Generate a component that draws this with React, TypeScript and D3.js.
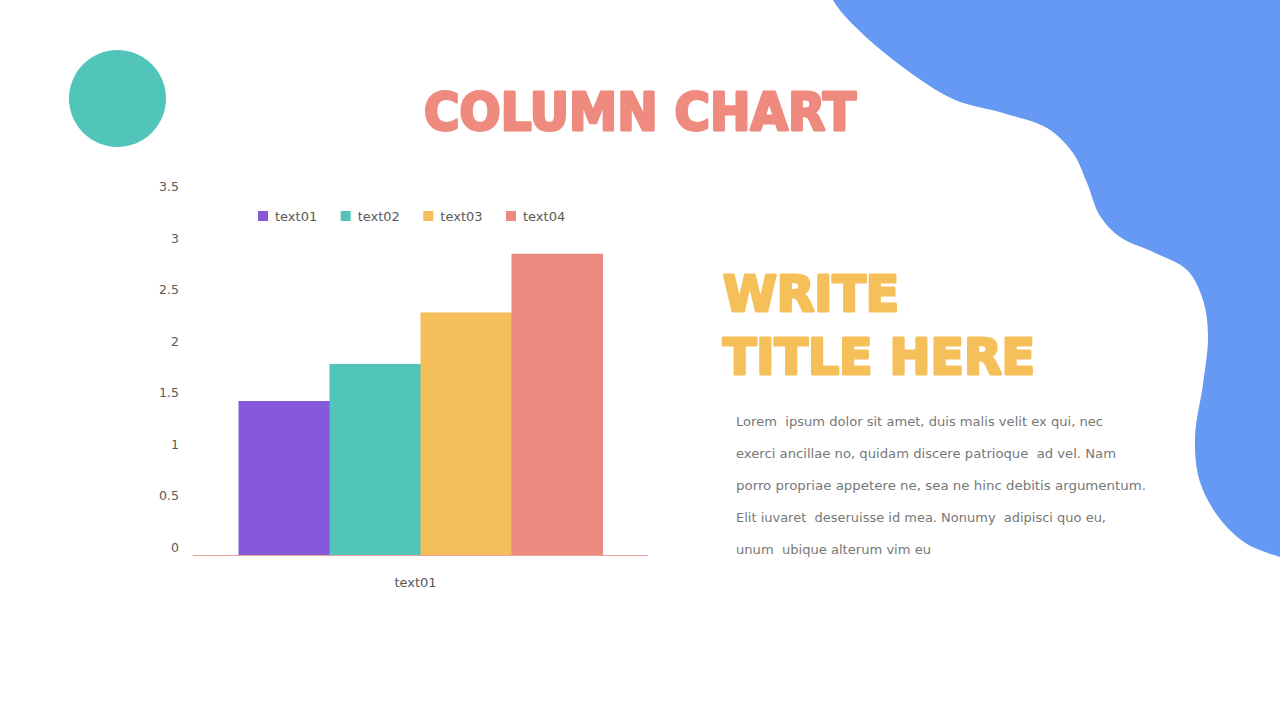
import React, { useEffect, useRef } from 'react';
import * as d3 from 'd3';

// chart data
const categories = ['text01'];
const seriesNames = ['text01', 'text02', 'text03', 'text04'];
const seriesValues = [1.5, 1.86, 2.36, 2.93];
const seriesColors = ['#8559d9', '#52c5ba', '#f4bf5a', '#eb8a7e'];
const yTicks = [0, 0.5, 1, 1.5, 2, 2.5, 3, 3.5];

// slide text
const titleText = 'COLUMN CHART';
const headingLines = ['WRITE', 'TITLE HERE'];
const paragraphLines = [
  'Lorem  ipsum dolor sit amet, duis malis velit ex qui, nec',
  'exerci ancillae no, quidam discere patrioque  ad vel. Nam',
  'porro propriae appetere ne, sea ne hinc debitis argumentum.',
  'Elit iuvaret  deseruisse id mea. Nonumy  adipisci quo eu,',
  'unum  ubique alterum vim eu',
];
const paragraphWidths = [367, 380, 410, 370, 195];

// decorative blob outline (top-right)
const blobOutline: [number, number][] = [
  [833, 0], [843, 14], [887, 55], [953, 99], [1003, 113], [1047, 128],
  [1073, 153], [1087, 183], [1100, 216], [1120, 237], [1153, 252],
  [1187, 270], [1203, 300], [1208, 336], [1203, 384], [1195, 438],
  [1200, 482], [1220, 519], [1247, 544], [1280, 557],
];

const W = 1280;
const H = 720;

const App: React.FC = () => {
  const svgRef = useRef<SVGSVGElement>(null);

  useEffect(() => {
    if (!svgRef.current) return;
    const svg = d3.select(svgRef.current);
    svg.selectAll('*').remove();

    svg.append('rect').attr('width', W).attr('height', H).attr('fill', '#ffffff');

    // blob
    const blobLine = d3.line<[number, number]>().curve(d3.curveCatmullRom.alpha(0.5));
    const edge = blobLine(blobOutline) as string;
    svg.append('path')
      .attr('d', `${edge} L${W},0 Z`)
      .attr('fill', '#6699f3');

    // circle
    svg.append('circle')
      .attr('cx', 117.5).attr('cy', 98.5).attr('r', 48.5)
      .attr('fill', '#52c5ba');

    // title
    svg.append('text')
      .attr('x', 424).attr('y', 130)
      .attr('textLength', 432)
      .attr('lengthAdjust', 'spacingAndGlyphs')
      .attr('font-family', 'DejaVu Sans')
      .attr('font-weight', 'bold')
      .attr('font-size', 51)
      .attr('fill', '#ee8a7e')
      .attr('stroke', '#ee8a7e')
      .attr('stroke-width', 3)
      .attr('stroke-linejoin', 'round')
      .text(titleText);

    // heading
    const headingWidths = [176, 312];
    headingLines.forEach((t, i) => {
      svg.append('text')
        .attr('x', 723).attr('y', 311 + i * 63)
        .attr('textLength', headingWidths[i])
        .attr('lengthAdjust', 'spacingAndGlyphs')
        .attr('font-family', 'DejaVu Sans')
        .attr('font-weight', 'bold')
        .attr('font-size', 49)
        .attr('fill', '#f5bf5a')
        .attr('stroke', '#f5bf5a')
        .attr('stroke-width', 3)
        .attr('stroke-linejoin', 'round')
        .text(t);
    });

    // paragraph
    paragraphLines.forEach((t, i) => {
      svg.append('text')
        .attr('x', 736).attr('y', 426 + i * 32)
        .attr('textLength', paragraphWidths[i])
        .attr('lengthAdjust', 'spacingAndGlyphs')
        .attr('font-family', 'DejaVu Sans')
        .attr('font-size', 13)
        .attr('fill', '#777777')
        .style('white-space', 'pre')
        .text(t);
    });

    // chart
    const x0 = d3.scaleBand<string>().domain(categories).range([193, 648])
      .paddingInner(0.2).paddingOuter(0.1);
    const x1 = d3.scaleBand<string>().domain(seriesNames).range([0, x0.bandwidth()]);
    const y = d3.scaleLinear().domain([0, 3.5]).range([555.5, 555.5 - 3.5 * 103]);

    const chart = svg.append('g');

    // y tick labels
    chart.selectAll('.ytick')
      .data(yTicks)
      .enter()
      .append('text')
      .attr('x', 179)
      .attr('y', d => y(d) - 8)
      .attr('dy', '0.35em')
      .attr('text-anchor', 'end')
      .attr('font-family', 'DejaVu Sans')
      .attr('font-size', 12.5)
      .attr('fill', '#595959')
      .text(d => String(d));

    // bars
    categories.forEach(cat => {
      chart.selectAll(`.bar-${cat}`)
        .data(seriesValues)
        .enter()
        .append('rect')
        .attr('x', (_, i) => (x0(cat) as number) + (x1(seriesNames[i]) as number))
        .attr('y', d => y(d))
        .attr('width', x1.bandwidth() + 0.5)
        .attr('height', d => y(0) - y(d))
        .attr('fill', (_, i) => seriesColors[i]);

      chart.append('text')
        .attr('x', (x0(cat) as number) + x0.bandwidth() / 2 - 5)
        .attr('y', 582)
        .attr('dy', '0.35em')
        .attr('text-anchor', 'middle')
        .attr('font-family', 'DejaVu Sans')
        .attr('font-size', 13)
        .attr('fill', '#595959')
        .text(cat);
    });

    // baseline
    chart.append('line')
      .attr('x1', 193).attr('x2', 648)
      .attr('y1', y(0)).attr('y2', y(0))
      .attr('stroke', '#e9a39a')
      .attr('stroke-width', 1);

    // legend
    const lx = d3.scalePoint<string>().domain(seriesNames).range([258, 506]);
    const legend = chart.selectAll('.legend')
      .data(seriesNames)
      .enter()
      .append('g')
      .attr('transform', d => `translate(${lx(d)},216)`);
    legend.append('rect')
      .attr('x', 0).attr('y', -5)
      .attr('width', 10).attr('height', 10)
      .attr('fill', (_, i) => seriesColors[i]);
    legend.append('text')
      .attr('x', 17).attr('dy', '0.35em')
      .attr('font-family', 'DejaVu Sans')
      .attr('font-size', 13)
      .attr('fill', '#595959')
      .text(d => d);
  }, []);

  return (
    <div style={{ position: 'fixed', left: 0, top: 0, width: W, height: H, background: '#fff' }}>
      <svg ref={svgRef} width={W} height={H} viewBox={`0 0 ${W} ${H}`} />
    </div>
  );
};

export default App;
